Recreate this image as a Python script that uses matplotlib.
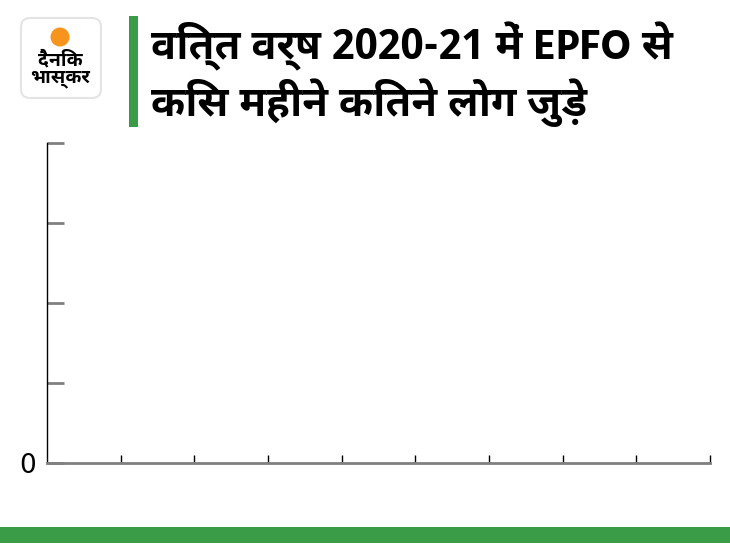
import matplotlib
matplotlib.use("Agg")
import matplotlib.pyplot as plt
from matplotlib.patches import FancyBboxPatch, Circle, Rectangle

# ---- data (chart is shown in its initial, empty state) ----
categories = ["अप्रैल", "मई", "जून", "जुलाई", "अगस्त", "सितंबर", "अक्टूबर", "नवंबर", "दिसंबर"]
values = [0, 0, 0, 0, 0, 0, 0, 0, 0]
y_ticks = [0, 1, 2, 3, 4]
y_tick_labels = ["0", "", "", "", ""]
title_line1 = "वित्त वर्ष 2020-21 में EPFO से"
title_line2 = "किस महीने कितने लोग जुड़े"
logo_line1 = "दैनिक"
logo_line2 = "भास्कर"

GREEN = "#3b9c48"
FONT = ["Noto Sans Devanagari UI", "Hind", "DejaVu Sans"]
W, H = 730, 548
fig = plt.figure(figsize=(W / 100, H / 100), dpi=100)
fig.patch.set_facecolor("white")

def fx(px):
    return px / W

def fy(py):
    return 1 - py / H

# axes
ax = fig.add_axes([fx(47), fy(463), fx(710) - fx(47), fy(143) - fy(463)])
x = list(range(len(categories)))
ax.bar([i + 0.5 for i in x], values, width=0.6, color=GREEN)
ax.set_xlim(0, len(categories))
ax.set_ylim(y_ticks[0], y_ticks[-1])
ax.set_yticks(y_ticks)
ax.set_yticklabels(y_tick_labels, fontfamily="DejaVu Sans", fontsize=19)
ax.set_xticks([i + 1 for i in x])
ax.set_xticklabels([""] * len(categories))
for s in ["top", "right"]:
    ax.spines[s].set_visible(False)
ax.spines["left"].set_color("black")
ax.spines["left"].set_linewidth(1.0)
ax.spines["bottom"].set_color("#808080")
ax.spines["bottom"].set_linewidth(2.0)
ax.tick_params(axis="y", direction="in", length=12.5, width=2, color="#808080", pad=8)
ax.tick_params(axis="x", direction="in", length=6, width=1, color="black")
ax.patch.set_alpha(0)

# title
tkw = dict(family=FONT, weight="bold", fontsize=30, color="black", va="center", ha="left")
fig.text(fx(151), fy(46), title_line1, **tkw)
fig.text(fx(151), fy(103), title_line2, **tkw)

# green vertical accent
fig.add_artist(Rectangle((fx(129), fy(127)), fx(138) - fx(129), fy(16) - fy(127),
                         transform=fig.transFigure, color=GREEN, lw=0))

# bottom green band
fig.add_artist(Rectangle((0, fy(543)), 1, fy(527) - fy(543),
                         transform=fig.transFigure, color=GREEN, lw=0))

# logo
lax = fig.add_axes([fx(18), fy(101), fx(104) - fx(18), fy(15) - fy(101)])
lax.set_xlim(0, 86)
lax.set_ylim(86, 0)
lax.axis("off")
lax.add_patch(FancyBboxPatch((3, 3), 80, 80, boxstyle="round,pad=0,rounding_size=9",
                             fc="white", ec="#e4e4e4", lw=1.5))
lax.add_patch(Circle((42, 22), 9.5, color="#f7941d", lw=0))
lkw = dict(family=FONT, weight="bold", fontsize=14, color="black", ha="center", va="center")
lax.text(42, 45, logo_line1, **lkw)
lax.text(42, 64, logo_line2, **lkw)

fig.savefig("out.png", dpi=100)
